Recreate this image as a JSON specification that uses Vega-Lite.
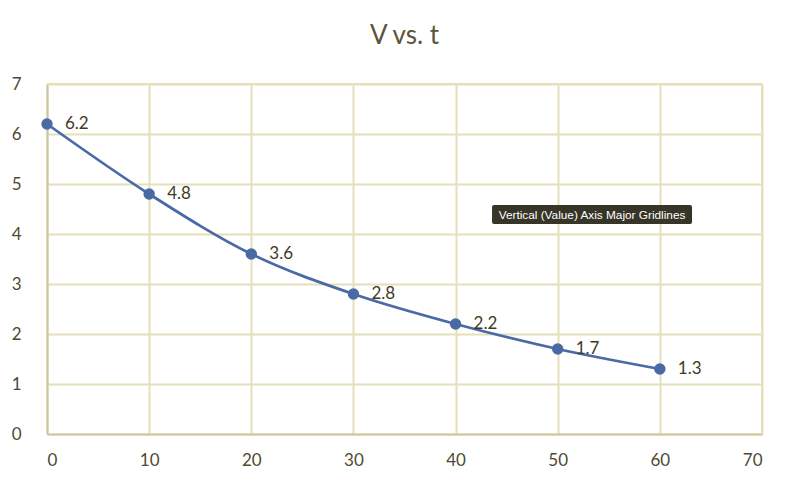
{
  "$schema": "https://vega.github.io/schema/vega-lite/v6.json",
  "width": 715,
  "height": 350,
  "autosize": {"type": "none"},
  "padding": {"left": 47, "top": 84, "right": 30, "bottom": 55},
  "background": "white",
  "title": {
    "text": "V vs. t",
    "font": "Lato",
    "fontSize": 26,
    "fontWeight": "normal",
    "color": "#5b553a",
    "anchor": "middle",
    "offset": 26
  },
  "config": {
    "view": {"stroke": null},
    "axis": {
      "labelFont": "Lato",
      "labelFontSize": 17,
      "labelColor": "#4f4a30",
      "gridColor": "#e4e0b9",
      "gridWidth": 2,
      "domainColor": "#cdc69f",
      "domainWidth": 2,
      "ticks": false,
      "title": null
    }
  },
  "datasets": {
    "series": [
      {"t": 0, "V": 6.2},
      {"t": 10, "V": 4.8},
      {"t": 20, "V": 3.6},
      {"t": 30, "V": 2.8},
      {"t": 40, "V": 2.2},
      {"t": 50, "V": 1.7},
      {"t": 60, "V": 1.3}
    ],
    "tip": [
      {"label": "Vertical (Value) Axis Major Gridlines", "x0": 43.57, "x1": 63.15, "xm": 53.36, "y0": 4.2, "y1": 4.58, "ym": 4.39}
    ]
  },
  "layer": [
    {
      "data": {"name": "series"},
      "layer": [
        {
          "mark": {"type": "line", "interpolate": "monotone", "color": "#4a6aa5", "strokeWidth": 2.7},
          "encoding": {
            "x": {
              "field": "t",
              "type": "quantitative",
              "scale": {"domain": [0, 70], "nice": false},
              "axis": {"values": [0, 10, 20, 30, 40, 50, 60, 70], "labelPadding": 18}
            },
            "y": {
              "field": "V",
              "type": "quantitative",
              "scale": {"domain": [0, 7], "nice": false},
              "axis": {"values": [0, 1, 2, 3, 4, 5, 6, 7], "labelPadding": 26}
            }
          }
        },
        {
          "mark": {"type": "circle", "size": 130, "color": "#4a6aa5", "opacity": 1},
          "encoding": {
            "x": {"field": "t", "type": "quantitative"},
            "y": {"field": "V", "type": "quantitative"}
          }
        },
        {
          "mark": {"type": "text", "align": "left", "baseline": "middle", "dx": 18, "font": "Lato", "fontSize": 17, "color": "#3f3a26"},
          "encoding": {
            "x": {"field": "t", "type": "quantitative"},
            "y": {"field": "V", "type": "quantitative"},
            "text": {"field": "V", "type": "quantitative", "format": ".1f"}
          }
        }
      ]
    },
    {
      "data": {"name": "tip"},
      "layer": [
        {
          "mark": {"type": "rule", "color": "#e4e0b9", "strokeWidth": 2},
          "encoding": {"x": {"datum": 70}, "y": {"datum": 0}, "y2": {"datum": 7}}
        },
        {
          "mark": {"type": "rule", "color": "#e4e0b9", "strokeWidth": 2},
          "encoding": {"y": {"datum": 7}, "x": {"datum": 0}, "x2": {"datum": 70}}
        },
        {
          "mark": {"type": "rect", "color": "#363527", "cornerRadius": 2, "opacity": 1},
          "encoding": {
            "x": {"field": "x0", "type": "quantitative"},
            "x2": {"field": "x1"},
            "y": {"field": "y0", "type": "quantitative"},
            "y2": {"field": "y1"}
          }
        },
        {
          "mark": {"type": "text", "align": "center", "baseline": "middle", "font": "Liberation Sans", "fontSize": 11.8, "color": "white"},
          "encoding": {
            "x": {"field": "xm", "type": "quantitative"},
            "y": {"field": "ym", "type": "quantitative"},
            "text": {"field": "label"}
          }
        }
      ]
    }
  ]
}
